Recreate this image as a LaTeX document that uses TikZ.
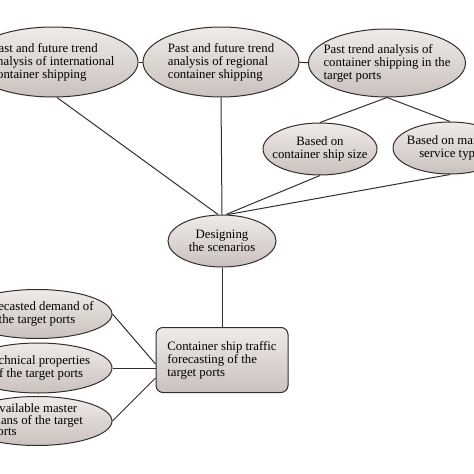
\documentclass[tikz,border=0pt]{standalone}
\usepackage{fontspec}
\setmainfont{Liberation Serif}
\usetikzlibrary{shapes.geometric}
\definecolor{edge}{HTML}{352D2C}
\definecolor{topfill}{HTML}{EFEBE9}
\definecolor{botfill}{HTML}{C9C1BD}
\begin{document}
\begin{tikzpicture}[x=1pt,y=-1pt,
		every node/.style={draw=edge,top color=topfill,bottom color=botfill,line width=1pt,inner sep=0pt,font=\fontsize{12.8}{13}\selectfont},
		oval/.style 2 args={ellipse,inner xsep=-80pt,inner ysep=-40pt,minimum width=#1,minimum height=#2},
		card/.style={rectangle,rounded corners=7pt,minimum width=132pt,minimum height=65pt},
		link/.style={draw=edge,line width=1pt}]
			\useasboundingbox (0,0) rectangle (474,474);
			\clip (0,0) rectangle (474,474);
			\node[oval={170}{70},align=left] (intl) at (53,62)
				{Past and future trend\\analysis of international\\container shipping};
			\node[oval={156}{70},align=left] (regn) at (221,62)
				{Past and future trend\\analysis of regional\\container shipping};
			\node[oval={157}{68},align=left] (port) at (387,63)
				{Past trend analysis of\\container shipping in the\\target ports};
			\node[oval={114}{52},align=center] (size) at (320,149)
				{Based on\\container ship size};
			\node[oval={114}{52},align=center] (serv) at (450,148)
				{Based on marine\\service type};
			\node[oval={108}{52},align=center] (scen) at (222,241)
				{Designing\\the scenarios};
			\node[card,align=left] (fcst) at (222,360)
				{Container ship traffic\\forecasting of the\\target ports};
			\node[oval={150}{49},align=center] (dmnd) at (37,314)
				{Forecasted demand of\\the target ports};
			\node[oval={148}{50},align=center] (tech) at (38,368)
				{Technical properties\\of the target ports};
			\node[oval={150}{49},align=left,font=\fontsize{12.8}{11.5}\selectfont] (plan) at (37,421)
				{Available master\\plans of the target\\ports};
			\draw[link] (intl) -- (regn);
			\draw[link] (regn) -- (port);
			\draw[link] ([xshift=4pt]intl.south) -- ([xshift=-4pt]scen.north);
			\draw[link] (regn.south) -- (scen.north);
			\draw[link] (port.south) -- (size.north);
			\draw[link] (port.south) -- (serv.north);
			\draw[link] (size.south) -- ([xshift=4pt]scen.north);
			\draw[link] (serv.south) -- ([xshift=6pt]scen.north);
			\draw[link] (scen.south) -- (fcst.north);
			\draw[link] (dmnd.east) -- ([yshift=-4pt]fcst.west);
			\draw[link] (tech.east) -- (tech.east -| fcst.west);
			\draw[link] (plan.east) -- ([yshift=-18pt]fcst.west);
\end{tikzpicture}
\end{document}
